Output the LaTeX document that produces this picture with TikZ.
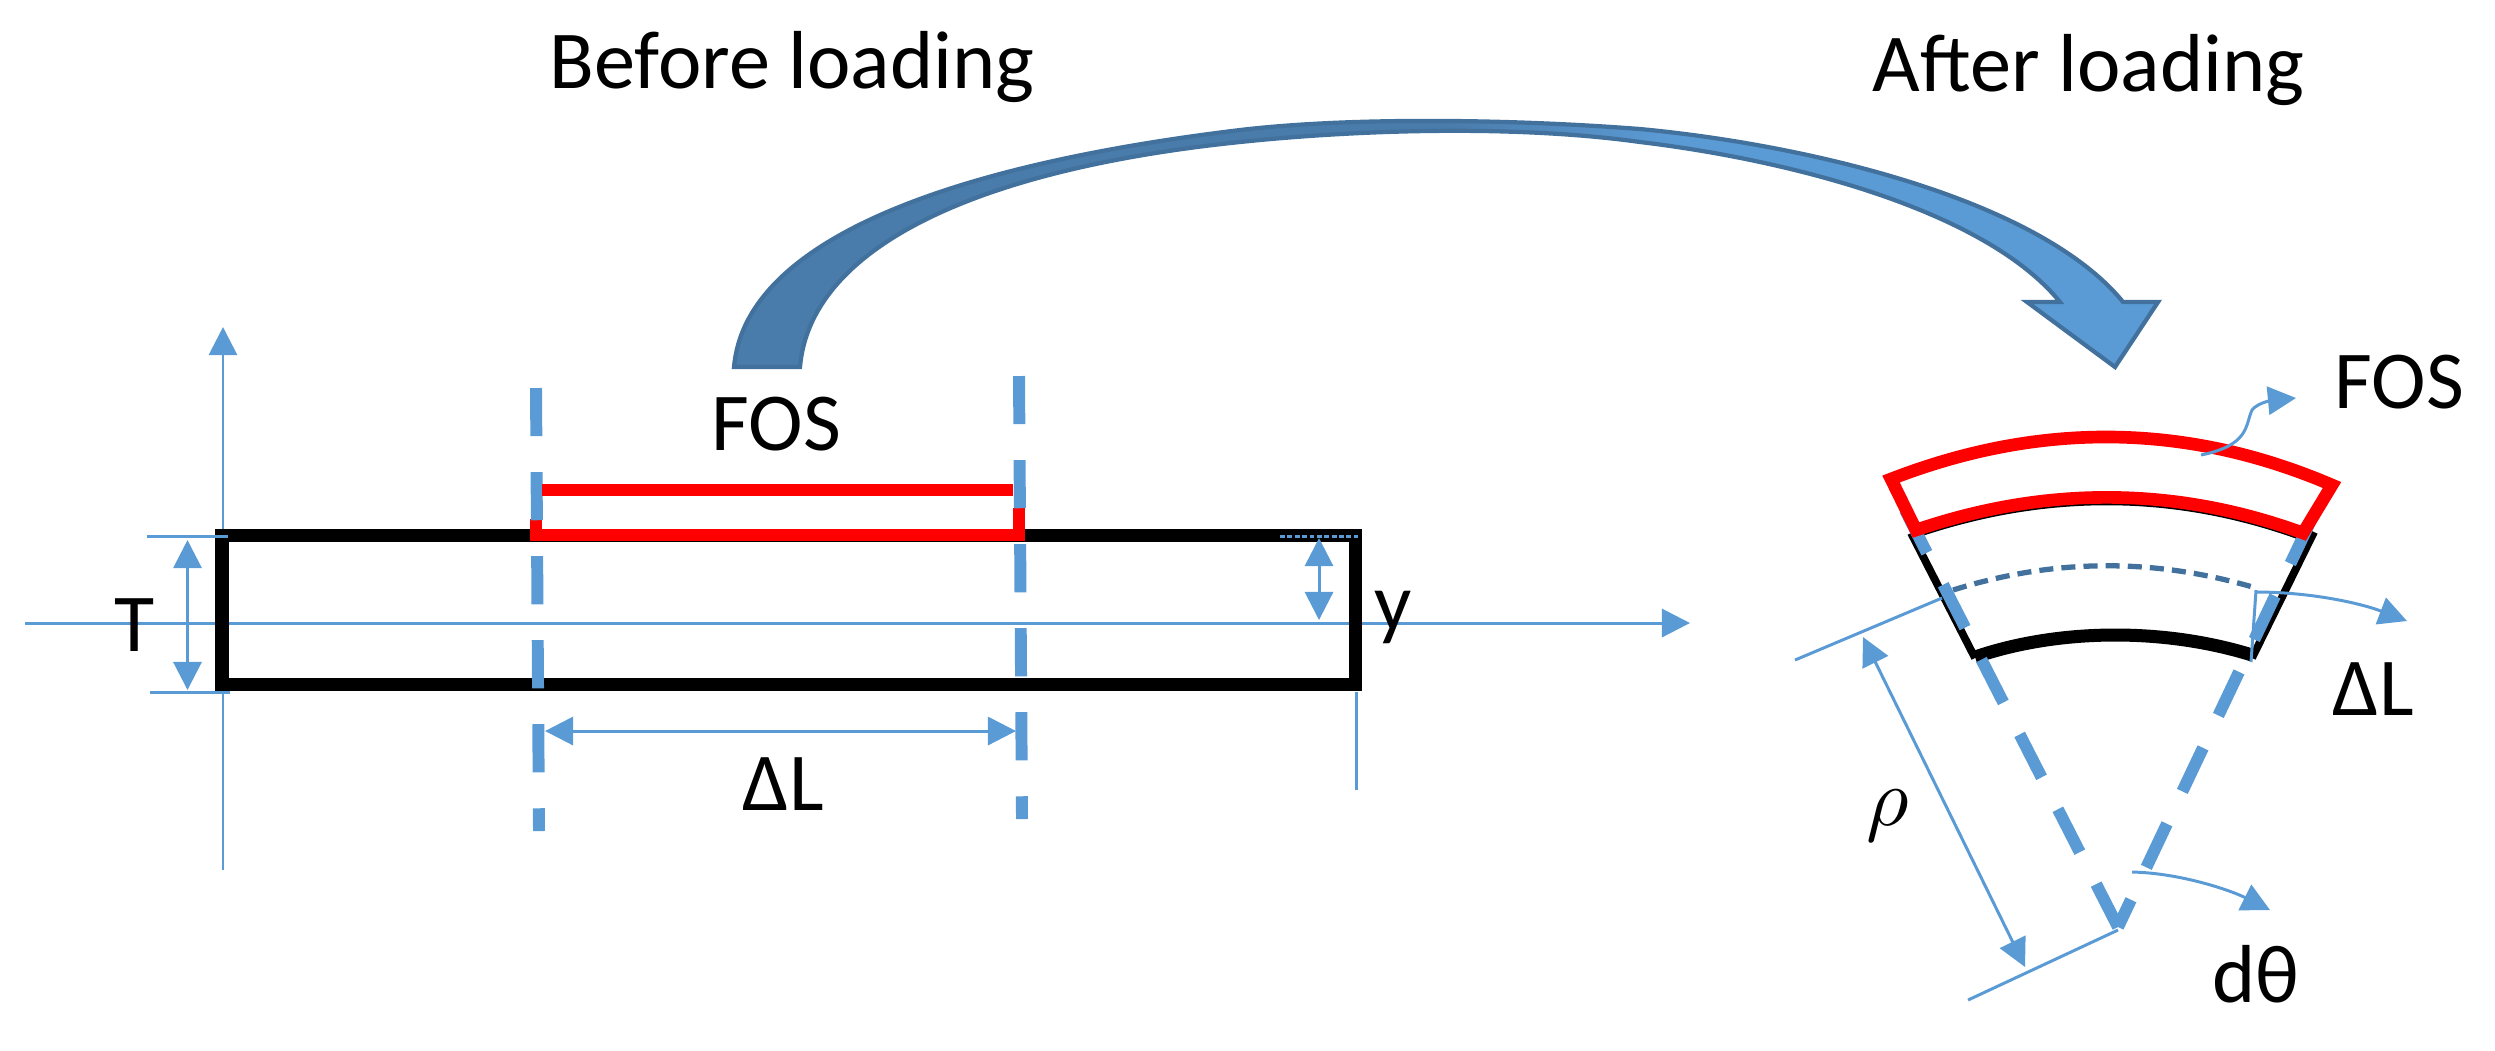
\documentclass[tikz,border=0pt]{standalone}
\usepackage{fontspec}
\setmainfont{Carlito}
\usepackage{unicode-math}
\usetikzlibrary{arrows.meta}
\definecolor{linkblue}{HTML}{5B9BD5}
\definecolor{edgeblue}{HTML}{41719C}
\definecolor{darkshaft}{HTML}{4A7CAB}
\pgfdeclarehorizontalshading{bendshade}{100bp}{color(0bp)=(darkshaft); color(50bp)=(darkshaft); color(58bp)=(linkblue); color(100bp)=(linkblue)}
\tikzset{
  thinline/.style={draw=linkblue, line width=0.85pt},
  thickdash/.style={draw=linkblue, line width=3.4pt, dash pattern=on 13.7pt off 10.2pt},
  beam/.style={draw=black, line width=3.7pt},
  fosline/.style={draw=red, line width=3.6pt},
  lbl/.style={anchor=base west, inner sep=0pt, font=\fontsize{23.4pt}{28pt}\selectfont},
}
\begin{document}
\begin{tikzpicture}[x=0.01cm, y=-0.01cm, >={Triangle[length=8pt, width=8pt]}]
    \useasboundingbox (0,0) rectangle (2495,1050);
    % curved arrow
    \path[draw=edgeblue, line width=1.2pt, shading=bendshade]
        (734,367) .. controls (745,240) and (950,165) .. (1240,130)
        .. controls (1350,117) and (1510,119) .. (1640,129)
        .. controls (1810,145) and (2040,200) .. (2123,302)
        -- (2158,302) -- (2115,367) -- (2027,302) -- (2060,302)
        .. controls (1985,210) and (1790,160) .. (1640,142)
        .. controls (1510,124) and (1350,130.5) .. (1240,142)
        .. controls (970,170) and (810,250) .. (800,367) -- cycle;
    % axes
    \draw[thinline, ->] (25,623) -- (1690,623);
    \draw[thinline, ->] (223,870) -- (223,327);
    % beam
    \draw[beam] (222,535) rectangle (1355,684.5);
    \draw[thinline] (147,536.5) -- (228,536.5);
    \draw[thinline] (150,692) -- (230,692);
    \draw[thinline, <->] (187.5,540) -- (187.5,690);
    \draw[thinline, dash pattern=on 1.4pt off 0.7pt] (1280,536) -- (1358,536);
    \draw[thinline, <->] (1319,538) -- (1319,620);
    \draw[thinline] (1356,692) -- (1356,790);
    \draw[thinline, <->] (545,731) -- (1016,731);
    % fibre before loading
    \draw[fosline] (536,535) -- (536,519);
    \draw[fosline] (1019,535) -- (1019,508);
    \draw[thickdash] (536,388) -- (539,831);
    \draw[thickdash] (1019,376) -- (1022,819);
    \draw[fosline] (542,490) -- (1013,490);
    \draw[fosline] (530,535) -- (1025,535);
    % bent element
    \draw[black, line width=2.2pt] (1911,533) -- (1975,658);
    \draw[black, line width=2.2pt] (2314,532) -- (2252,658);
    \draw[black, line width=2.2pt] (1916,534) .. controls (2045,490) and (2175,490) .. (2303,537);
    \draw[black, line width=3.7pt] (1975,657) .. controls (2060,628) and (2165,628) .. (2252,655);
    \draw[edgeblue, line width=1.5pt, dash pattern=on 4pt off 2.3pt] (1953,590) .. controls (2055,558) and (2155,558) .. (2256,588);
    \draw[thickdash] (2118,927) -- (1905,510);
    \draw[thickdash] (2311,520) -- (2118,927);
    \draw[fosline, line join=miter] (1891,479) .. controls (2038,422) and (2185,422) .. (2332,485)
        -- (2303,533) .. controls (2175,486) and (2045,486) .. (1916,530) -- cycle;
    % leaders
    \draw[thinline] (1795,660) -- (1942,598);
    \draw[thinline] (1968,1000) -- (2118,930);
    \draw[thinline, <->] (1863,637) -- (2025,967);
    \draw[thinline, ->] (2201,455) .. controls (2250,445) and (2245,425) .. (2252,410) .. controls (2258,402) and (2275,400) .. (2296,398);
    \draw[thinline] (2256,590) -- (2251,662);
    \draw[thinline, ->] (2256,592) .. controls (2310,592) and (2360,603) .. (2407,621);
    \draw[thinline, ->] (2132,872) .. controls (2180,873) and (2230,890) .. (2270,910);
    % labels
    \node[lbl] (before) at (549,88) {Before loading};
    \node[lbl] (after) at (1872,91) {After loading};
    \node[lbl] (fosleft) at (711,450) {FOS};
    \node[lbl] (fosright) at (2334,408) {FOS};
    \node[lbl] (thick) at (114,651) {T};
    \node[lbl] (ypos) at (1374,630) {y};
    \node[lbl] (dlleft) at (742,810) {ΔL};
    \node[lbl] (dlright) at (2332,715) {ΔL};
    \node[lbl] (rho) at (1866,825) {$\rho$};
    \node[lbl] (dtheta) at (2212,1002) {dθ};
\end{tikzpicture}
\end{document}
